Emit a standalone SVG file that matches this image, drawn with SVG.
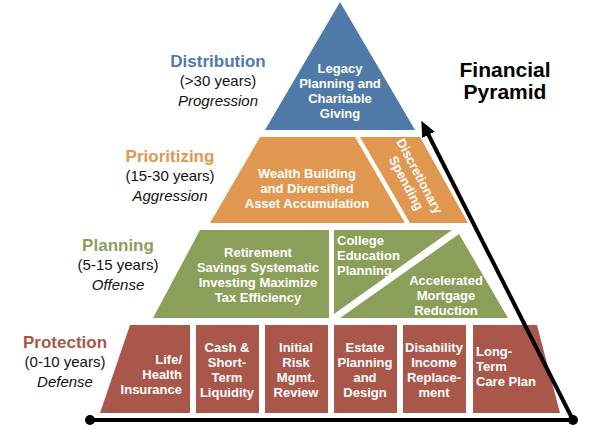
<svg xmlns="http://www.w3.org/2000/svg" width="600" height="429" viewBox="0 0 600 429">
<style>
.t{font-family:"Liberation Sans",Arial,sans-serif;font-weight:bold;font-size:13px;fill:#fff;text-anchor:middle}
.h{font-family:"Liberation Sans",Arial,sans-serif;font-weight:bold;font-size:17px;text-anchor:middle}
.s{font-family:"Liberation Sans",Arial,sans-serif;font-size:15px;fill:#111;text-anchor:middle}
.i{font-style:italic}
.b{fill:#4f7aa8}.o{fill:#e0974f}.g{fill:#8c9f5a}.r{fill:#a9574a}
</style>
<defs><marker id="ah" markerWidth="16" markerHeight="14" refX="10" refY="7" orient="auto" markerUnits="userSpaceOnUse"><path d="M0,0 L16,7 L0,14 Z" fill="#000"/></marker></defs>
<rect width="600" height="429" fill="#fff"/>
<g id="labels">
<text class="h b" x="218" y="67">Distribution</text><text class="s" x="218" y="86">(&gt;30 years)</text><text class="s i" x="218" y="106">Progression</text>
<text class="h o" x="170" y="162">Prioritizing</text><text class="s" x="170" y="181">(15-30 years)</text><text class="s i" x="170" y="201">Aggression</text>
<text class="h g" x="118" y="251">Planning</text><text class="s" x="118" y="270">(5-15 years)</text><text class="s i" x="118" y="290">Offense</text>
<text class="h r" x="65" y="348">Protection</text><text class="s" x="65" y="367">(0-10 years)</text><text class="s i" x="65" y="387">Defense</text>
<text class="h" style="font-size:21px" x="505" y="77">Financial</text><text class="h" style="font-size:21px" x="505" y="99">Pyramid</text>
</g>
<g id="legacy"><path class="b" d="M340,2 L415,130 L265,130 Z"/><text class="t"><tspan x="340" y="73">Legacy</tspan><tspan x="340" y="88">Planning and</tspan><tspan x="340" y="103">Charitable</tspan><tspan x="340" y="118">Giving</tspan></text></g>
<g id="wealth"><path class="o" d="M260,137 L355,137 L405,223 L210,223 Z"/><text class="t"><tspan x="307" y="178">Wealth Building</tspan><tspan x="307" y="193">and Diversified</tspan><tspan x="307" y="208">Asset Accumulation</tspan></text></g>
<g id="discretionary"><path class="o" d="M360,137 L420,137 L468,223 L410,223 Z"/><text class="t" transform="translate(412,180) rotate(62)"><tspan x="0" y="-4">Discretionary</tspan><tspan x="0" y="11">Spending</tspan></text></g>
<g id="retirement"><path class="g" d="M200,230 L329,230 L329,318 L153,318 Z"/><text class="t"><tspan x="258" y="257">Retirement</tspan><tspan x="258" y="272">Savings Systematic</tspan><tspan x="258" y="287">Investing Maximize</tspan><tspan x="258" y="302">Tax Efficiency</tspan></text></g>
<g id="college"><path class="g" d="M334,230 L452,230 L334,314 Z"/><text class="t" style="text-anchor:start"><tspan x="337" y="245">College</tspan><tspan x="337" y="260">Education</tspan><tspan x="337" y="275">Planning</tspan></text></g>
<g id="mortgage"><path class="g" d="M340,318 L459,234 L508,318 Z"/><text class="t"><tspan x="446" y="285">Accelerated</tspan><tspan x="446" y="300">Mortgage</tspan><tspan x="446" y="315">Reduction</tspan></text></g>
<g id="life"><path class="r" d="M130,325 L190,325 L190,413 L100,413 Z"/><text class="t" style="text-anchor:end"><tspan x="182" y="364">Life/</tspan><tspan x="182" y="379">Health</tspan><tspan x="182" y="394">Insurance</tspan></text></g>
<g id="cash"><rect class="r" x="196" y="325" width="63" height="88"/><text class="t"><tspan x="227" y="352">Cash &amp;</tspan><tspan x="227" y="367">Short-</tspan><tspan x="227" y="382">Term</tspan><tspan x="227" y="397">Liquidity</tspan></text></g>
<g id="risk"><rect class="r" x="265" y="325" width="63" height="88"/><text class="t"><tspan x="296" y="352">Initial</tspan><tspan x="296" y="367">Risk</tspan><tspan x="296" y="382">Mgmt.</tspan><tspan x="296" y="397">Review</tspan></text></g>
<g id="estate"><rect class="r" x="334" y="325" width="63" height="88"/><text class="t"><tspan x="365" y="352">Estate</tspan><tspan x="365" y="367">Planning</tspan><tspan x="365" y="382">and</tspan><tspan x="365" y="397">Design</tspan></text></g>
<g id="disability"><rect class="r" x="403" y="325" width="63" height="88"/><text class="t"><tspan x="434" y="352">Disability</tspan><tspan x="434" y="367">Income</tspan><tspan x="434" y="382">Replace-</tspan><tspan x="434" y="397">ment</tspan></text></g>
<g id="longterm"><path class="r" d="M473,325 L537,325 L560,413 L473,413 Z"/><text class="t" style="text-anchor:start"><tspan x="476" y="356">Long-</tspan><tspan x="476" y="371">Term</tspan><tspan x="476" y="386">Care Plan</tspan></text></g>
<g id="connectors" stroke="#000" stroke-width="4" fill="none">
<line x1="90" y1="420" x2="573" y2="420"/>
<line x1="573" y1="420" x2="424" y2="126" marker-end="url(#ah)"/>
<circle cx="90" cy="420" r="5" fill="#000" stroke="none"/><circle cx="573" cy="420" r="5" fill="#000" stroke="none"/>
</g>
</svg>
